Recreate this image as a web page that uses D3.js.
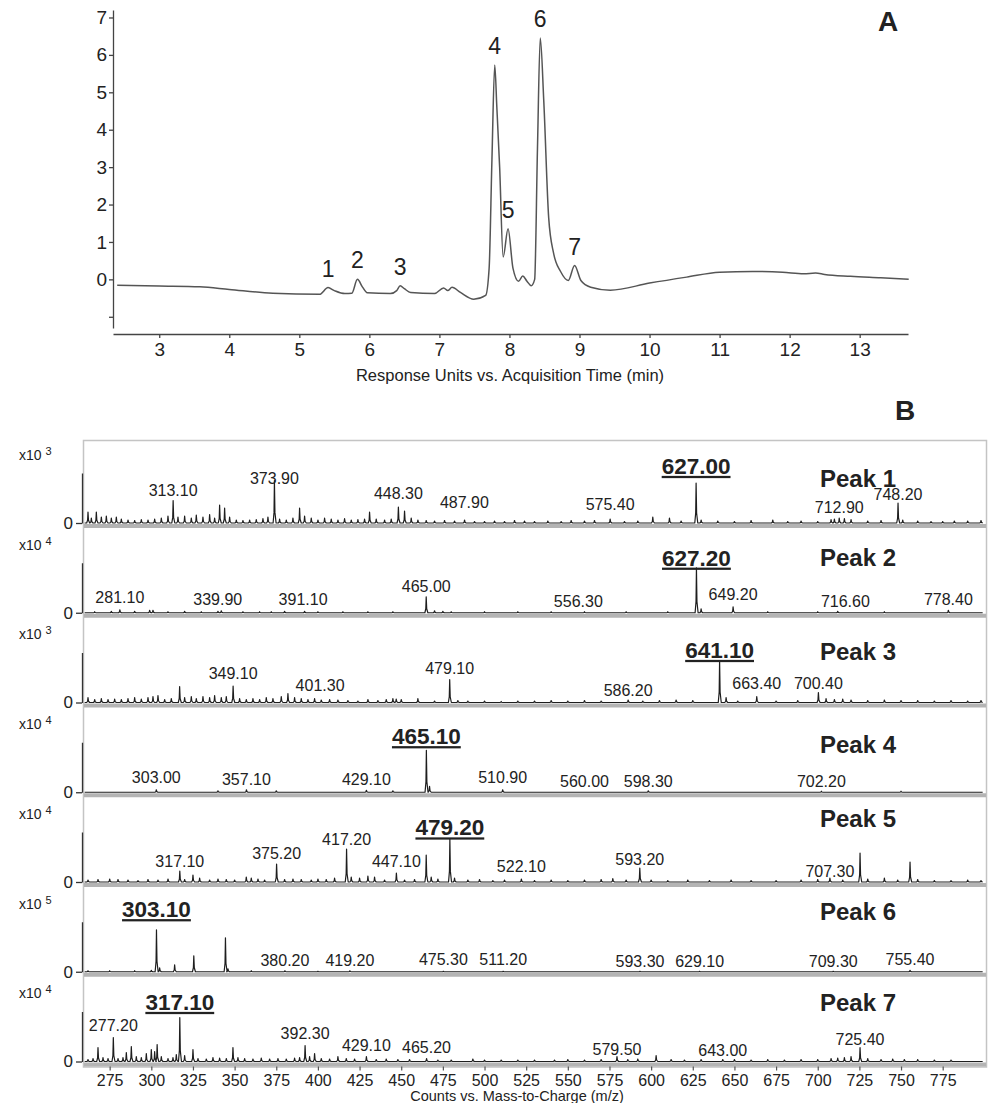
<!DOCTYPE html>
<html lang="en">
<head>
  <meta charset="UTF-8">
  <title>Chromatogram and mass spectra</title>
  <script src="https://d3js.org/d3.v7.min.js"></script>
  <style>
    body { margin: 0; background: #fff; }
    text { font-family: "Liberation Sans", Arial, sans-serif; fill: #222; }
  </style>
</head>
<body>
  <div class="canvas"></div>
  <script>
    // ---- panel A: chromatogram [time (min), response] ----
    const CHROMATOGRAM = [
      [2.40, -0.16], [3.00, -0.18], [3.58, -0.20], [4.00, -0.27], [4.62, -0.37], [5.29, -0.40],
      [5.41, -0.22], [5.50, -0.30], [5.65, -0.38], [5.75, -0.37], [5.83, 0.00], [5.90, -0.20],
      [5.97, -0.36], [6.30, -0.38], [6.39, -0.30], [6.44, -0.17], [6.50, -0.25], [6.59, -0.35],
      [6.93, -0.38], [7.06, -0.23], [7.12, -0.30], [7.18, -0.21], [7.30, -0.35], [7.49, -0.53],
      [7.66, -0.43], [7.71, 0.30], [7.75, 3.20], [7.79, 5.73], [7.82, 4.60], [7.86, 3.00],
      [7.91, 0.60], [7.98, 1.35], [8.05, 0.30], [8.13, -0.05], [8.19, 0.09], [8.25, -0.05],
      [8.31, -0.17], [8.36, 0.00], [8.40, 3.50], [8.44, 6.45], [8.49, 4.77], [8.56, 1.65],
      [8.63, 0.70], [8.73, 0.21], [8.84, -0.03], [8.93, 0.37], [9.02, -0.03], [9.16, -0.21],
      [9.44, -0.29], [10.00, -0.10], [10.53, 0.06], [11.00, 0.19], [11.47, 0.21], [11.90, 0.19],
      [12.20, 0.15], [12.37, 0.17], [12.50, 0.13], [12.87, 0.08], [13.30, 0.04], [13.70, 0.00]
    ];
    const PEAK_IDS = [1, 2, 3, 4, 5, 6, 7];
    const PEAK_TIMES = [5.41, 5.83, 6.44, 7.79, 7.98, 8.44, 8.93];
    const TIME_TICKS = [3, 4, 5, 6, 7, 8, 9, 10, 11, 12, 13];
    const RESPONSE_TICKS = [-1, 0, 1, 2, 3, 4, 5, 6, 7];

    // ---- panel B: spectra [m/z, relative height] ----
    const SPEC_1 = [
      [262,0.22],[264,0.1],[267,0.22],[270,0.12],[273,0.14],[276,0.1],[279,0.12],[282,0.08],[286,0.06],
      [290,0.05],[294,0.07],[298,0.06],[302,0.08],[306,0.1],[310,0.14],[313.1,0.45],[316,0.12],[320,0.14],
      [324,0.1],[327,0.16],[331,0.12],[335,0.17],[338,0.1],[341,0.36],[344,0.3],[347,0.12],[351,0.06],
      [355,0.05],[359,0.06],[363,0.07],[367,0.09],[370,0.12],[373.9,0.85],[377,0.08],[381,0.06],[385,0.1],
      [389,0.3],[392,0.14],[396,0.1],[400,0.06],[404,0.1],[408,0.08],[412,0.06],[416,0.09],[420,0.06],
      [424,0.07],[428,0.08],[431,0.22],[435,0.08],[440,0.06],[444,0.08],[448.3,0.32],[452,0.24],[456,0.1],
      [460,0.06],[465,0.05],[470,0.04],[476,0.05],[482,0.04],[488,0.06],[494,0.03],[500,0.03],[506,0.04],
      [512,0.03],[518,0.05],[524,0.04],[530,0.03],[538,0.04],[546,0.03],[552,0.05],[560,0.04],[566,0.05],
      [575.4,0.08],[584,0.03],[592,0.04],[601,0.12],[611,0.1],[618,0.04],[627,0.8],[630,0.06],[640,0.04],
      [650,0.03],[660,0.05],[673,0.06],[682,0.03],[690,0.04],[700,0.03],[708,0.07],[710,0.08],[712.9,0.1],
      [716,0.09],[720,0.07],[730,0.04],[738,0.05],[748.2,0.4],[751,0.06],[760,0.04],[768,0.03],[775,0.03],
      [782,0.04],[790,0.04],[798,0.05]
    ];
    const SPEC_2 = [
      [266,0.02],[276,0.03],[281.1,0.06],[290,0.03],[299,0.05],[301,0.05],[310,0.02],[320,0.03],[330,0.02],
      [340,0.03],[342,0.04],[355,0.02],[365,0.02],[372,0.02],[380,0.03],[392,0.03],[400,0.02],[415,0.02],
      [430,0.02],[445,0.02],[465,0.32],[470,0.04],[475,0.03],[480,0.02],[500,0.02],[520,0.02],[540,0.02],
      [560,0.02],[585,0.02],[610,0.02],[627.2,0.9],[630,0.08],[649.2,0.12],[670,0.02],[700,0.02],[712,0.03],
      [740,0.02],[778.4,0.05]
    ];
    const SPEC_3 = [
      [262,0.1],[266,0.06],[270,0.08],[274,0.06],[278,0.07],[282,0.06],[286,0.08],[290,0.1],[294,0.07],
      [298,0.1],[301,0.12],[304,0.14],[308,0.06],[312,0.08],[317,0.32],[320,0.1],[324,0.12],[327,0.08],
      [331,0.12],[335,0.1],[338,0.14],[342,0.1],[345,0.12],[349.1,0.33],[353,0.08],[357,0.06],[361,0.08],
      [365,0.06],[369,0.1],[373,0.08],[378,0.12],[382,0.18],[386,0.1],[390,0.08],[394,0.06],[398,0.08],
      [402,0.05],[407,0.06],[412,0.05],[418,0.04],[424,0.03],[430,0.06],[436,0.04],[441,0.06],[445,0.08],
      [447,0.07],[450,0.06],[460,0.08],[470,0.03],[479.1,0.46],[484,0.04],[490,0.03],[500,0.03],[510,0.02],
      [520,0.03],[530,0.03],[540,0.04],[550,0.03],[560,0.04],[570,0.03],[586.2,0.05],[595,0.03],[605,0.04],
      [615,0.05],[625,0.04],[641.1,0.84],[645,0.1],[652,0.03],[663.4,0.12],[675,0.03],[688,0.04],[700.4,0.2],
      [705,0.08],[710,0.06],[715,0.07],[720,0.05],[730,0.04],[740,0.05],[750,0.04],[760,0.04],[770,0.03],
      [780,0.04],[790,0.03],[798,0.04]
    ];
    const SPEC_4 = [
      [303,0.05],[340,0.03],[357.1,0.05],[375,0.03],[429.1,0.04],[445,0.03],[465.1,0.84],[467,0.12],
      [510.9,0.05],[598.3,0.03],[702.2,0.02],[750,0.02]
    ];
    const SPEC_5 = [
      [262,0.04],[268,0.05],[275,0.06],[280,0.05],[286,0.04],[292,0.03],[298,0.05],[304,0.04],[310,0.06],
      [317.1,0.22],[320,0.05],[325,0.14],[329,0.08],[335,0.04],[340,0.06],[345,0.05],[350,0.04],[357,0.1],
      [360,0.08],[364,0.06],[368,0.04],[375.2,0.36],[380,0.05],[385,0.06],[390,0.05],[396,0.04],[400,0.06],
      [405,0.05],[410,0.08],[417.2,0.66],[420,0.1],[425,0.08],[430,0.12],[434,0.1],[440,0.04],[447.1,0.18],
      [452,0.04],[458,0.05],[465,0.54],[468,0.1],[472,0.06],[479.2,0.87],[482,0.08],[490,0.04],[497,0.05],
      [505,0.03],[512,0.04],[522.1,0.06],[530,0.03],[540,0.04],[550,0.03],[560,0.04],[570,0.05],[577,0.07],
      [585,0.04],[593.2,0.28],[600,0.04],[610,0.03],[622,0.04],[635,0.03],[648,0.04],[660,0.03],[675,0.03],
      [690,0.04],[700,0.05],[707.3,0.08],[715,0.04],[725.4,0.58],[730,0.06],[740,0.08],[748,0.04],
      [755.4,0.4],[760,0.05],[770,0.03],[780,0.03],[790,0.04],[798,0.03]
    ];
    const SPEC_6 = [
      [262,0.02],[275,0.02],[290,0.02],[300,0.03],[303.1,0.84],[305,0.08],[314,0.14],[325.5,0.32],
      [344.5,0.68],[346,0.06],[360,0.02],[380.2,0.02],[400,0.01],[419.2,0.02],[475.3,0.01],[511.2,0.01],
      [593.3,0.01],[629.1,0.01],[709.3,0.01],[755.4,0.03]
    ];
    const SPEC_7 = [
      [262,0.04],[265,0.06],[268,0.28],[271,0.08],[274,0.06],[277.2,0.48],[280,0.06],[283,0.08],[285,0.18],
      [288,0.3],[291,0.1],[294,0.08],[297,0.16],[300,0.24],[302,0.2],[303.5,0.34],[306,0.1],[310,0.06],
      [313,0.08],[315,0.14],[317.1,0.88],[320,0.12],[325,0.24],[328,0.06],[333,0.05],[337,0.08],[341,0.07],
      [345,0.06],[349,0.28],[352,0.08],[356,0.06],[361,0.05],[366,0.07],[371,0.05],[376,0.06],[381,0.05],
      [386,0.07],[389,0.08],[392.3,0.32],[395,0.1],[398,0.16],[402,0.06],[407,0.05],[412,0.1],[417,0.06],
      [422,0.05],[429.1,0.1],[435,0.04],[441,0.05],[448,0.04],[455,0.04],[465.2,0.06],[472,0.03],[480,0.03],
      [493,0.05],[500,0.03],[510,0.03],[520,0.03],[530,0.03],[542,0.03],[550,0.04],[560,0.03],[570,0.04],
      [579.5,0.1],[586,0.04],[592,0.05],[603,0.12],[612,0.04],[620,0.03],[630,0.04],[643,0.04],[650,0.04],
      [660,0.03],[670,0.04],[680,0.03],[690,0.04],[700,0.04],[708,0.06],[712,0.07],[716,0.08],[720,0.1],
      [725.4,0.28],[730,0.06],[738,0.04],[745,0.05],[752,0.04],[760,0.04],[770,0.03],[780,0.03]
    ];

    // annotated m/z values per panel (first one listed is the underlined base ion)
    const LABELS_1 = [627.00, 313.10, 373.90, 448.30, 487.90, 575.40, 712.90, 748.20];
    const LABELS_2 = [627.20, 281.10, 339.90, 391.10, 465.00, 556.30, 649.20, 716.60, 778.40];
    const LABELS_3 = [641.10, 349.10, 401.30, 479.10, 586.20, 663.40, 700.40];
    const LABELS_4 = [465.10, 303.00, 357.10, 429.10, 510.90, 560.00, 598.30, 702.20];
    const LABELS_5 = [479.20, 317.10, 375.20, 417.20, 447.10, 522.10, 593.20, 707.30];
    const LABELS_6 = [303.10, 380.20, 419.20, 475.30, 511.20, 593.30, 629.10, 709.30, 755.40];
    const LABELS_7 = [317.10, 277.20, 392.30, 429.10, 465.20, 579.50, 643.00, 725.40];
    const PANEL_NAMES = ['Peak 1', 'Peak 2', 'Peak 3', 'Peak 4', 'Peak 5', 'Peak 6', 'Peak 7'];
    const PANEL_EXP = [3, 4, 3, 4, 4, 5, 4];
    const MZ_TICKS = d3.range(275, 776, 25);

    // label heights (in panel units) – layout only
    const LEVELS_1 = [1.14, 0.66, 0.9, 0.6, 0.42, 0.38, 0.32, 0.58];
    const LEVELS_2 = [1.1, 0.3, 0.26, 0.26, 0.52, 0.22, 0.36, 0.22, 0.26];
    const LEVELS_3 = [1.05, 0.59, 0.35, 0.69, 0.25, 0.39, 0.39];
    const LEVELS_4 = [1.12, 0.3, 0.26, 0.26, 0.3, 0.22, 0.22, 0.22];
    const LEVELS_5 = [1.09, 0.41, 0.57, 0.85, 0.41, 0.31, 0.45, 0.21];
    const LEVELS_6 = [1.25, 0.23, 0.23, 0.25, 0.25, 0.21, 0.21, 0.21, 0.25];
    const LEVELS_7 = [1.19, 0.73, 0.57, 0.33, 0.29, 0.25, 0.23, 0.45];
    const TITLE_LEVELS = [0.88, 1.1, 1.01, 0.96, 1.26, 1.21, 1.17];

    const width = 999;
    const height = 1103;
    const FONT = '"Liberation Sans", Arial, sans-serif';

    const svg = d3.select('.canvas')
                  .append('svg')
                  .attr('width', width)
                  .attr('height', height);

    // ================= A =================
    const xT = d3.scaleLinear().domain([2.34, 13.69]).range([113, 908]);
    const yR = d3.scaleLinear().domain([-1.3, 7.2]).range([328, 10]);

    const gA = svg.append('g');

    const yAxisA = gA.append('g')
                     .attr('transform', 'translate(113,0)')
                     .call(d3.axisLeft(yR).tickValues(RESPONSE_TICKS)
                             .tickFormat(d => d < 0 ? '' : d)
                             .tickSize(4).tickSizeOuter(0).tickPadding(2));
    const xAxisA = gA.append('g')
                     .attr('transform', 'translate(0,334)')
                     .call(d3.axisBottom(xT).tickValues(TIME_TICKS)
                             .tickSize(4).tickSizeOuter(0).tickPadding(5));
    [yAxisA, xAxisA].forEach(g => {
      g.selectAll('path, line').attr('stroke', '#444').attr('stroke-width', 1.3);
      g.selectAll('text').style('font-size', '19px').style('font-family', FONT).attr('fill', '#222');
    });

    const chromLine = d3.line()
                        .x(d => xT(d[0]))
                        .y(d => yR(d[1]))
                        .curve(d3.curveMonotoneX);

    gA.append('path')
      .datum(CHROMATOGRAM)
      .attr('fill', 'none')
      .attr('stroke', '#555')
      .attr('stroke-width', 1.5)
      .attr('d', chromLine);

    // peak numbers, set just above each apex
    const apexOf = t => CHROMATOGRAM.find(d => d[0] === t)[1];
    gA.selectAll('.pk')
      .data(PEAK_IDS)
      .enter()
      .append('text')
      .attr('x', (d, i) => xT(PEAK_TIMES[i]))
      .attr('y', (d, i) => yR(apexOf(PEAK_TIMES[i])) - 19)
      .attr('dy', '0.35em')
      .attr('text-anchor', 'middle')
      .style('font-size', '23px')
      .text(d => d);

    gA.append('text')
      .attr('x', 510).attr('y', 375)
      .attr('dy', '0.35em')
      .attr('text-anchor', 'middle')
      .style('font-size', '16.5px')
      .text('Response Units vs. Acquisition Time (min)');

    gA.append('text')
      .attr('x', 888).attr('y', 21)
      .attr('dy', '0.35em')
      .attr('text-anchor', 'middle')
      .style('font-size', '28px').style('font-weight', 'bold')
      .text('A');

    // ================= B =================
    const specs = [SPEC_1, SPEC_2, SPEC_3, SPEC_4, SPEC_5, SPEC_6, SPEC_7];
    const labels = [LABELS_1, LABELS_2, LABELS_3, LABELS_4, LABELS_5, LABELS_6, LABELS_7];
    const levels = [LEVELS_1, LEVELS_2, LEVELS_3, LEVELS_4, LEVELS_5, LEVELS_6, LEVELS_7];

    const xMz = d3.scaleLinear().domain([259, 801]).range([83, 986]);
    const frameTop = 440;
    const firstBase = 523;
    const step = 89.75;
    const axisH = 50;
    const lastBase = firstBase + step * 6;

    const gB = svg.append('g');

    gB.append('text')
      .attr('x', 905).attr('y', 410)
      .attr('dy', '0.35em')
      .attr('text-anchor', 'middle')
      .style('font-size', '28px').style('font-weight', 'bold')
      .text('B');

    gB.append('rect')
      .attr('x', 83.5).attr('y', frameTop + 0.5)
      .attr('width', 903).attr('height', lastBase + 5 - frameTop)
      .attr('fill', 'none')
      .attr('stroke', '#c4c4c4')
      .attr('stroke-width', 1.5);

    // spike shape for each peak
    const stickPoints = peaks => {
      const pts = [[260, 0]];
      peaks.slice().sort((a, b) => a[0] - b[0]).forEach(([m, h]) => {
        pts.push([m - 0.8, 0], [m - 0.25, h * 0.25], [m, h], [m + 0.3, h * 0.25], [m + 1.0, 0]);
      });
      pts.push([799, 0]);
      return pts;
    };

    specs.forEach((spec, i) => {
      const base = firstBase + step * i;
      const y = d3.scaleLinear().domain([0, 1]).range([base, base - axisH]);
      const g = gB.append('g');

      // separator band under the baseline
      g.append('rect')
        .attr('x', 84).attr('y', base + 1)
        .attr('width', 902).attr('height', 4)
        .attr('fill', '#b4b4b4');

      const spLine = d3.line().x(d => xMz(d[0])).y(d => y(d[1]));
      g.append('path')
        .datum(stickPoints(spec))
        .attr('fill', 'none')
        .attr('stroke', '#1e1e1e')
        .attr('stroke-width', 1.2)
        .attr('stroke-linejoin', 'round')
        .attr('d', spLine);

      const ax = g.append('g')
                  .attr('transform', 'translate(82,0)')
                  .call(d3.axisLeft(y).tickValues([0]).tickFormat(d => d)
                          .tickSize(6).tickSizeOuter(0).tickPadding(3));
      ax.selectAll('path, line').attr('stroke', '#333').attr('stroke-width', 1.3);
      ax.selectAll('text').style('font-size', '17px').style('font-family', FONT).attr('fill', '#222');

      // x10^n scale factor
      const sf = g.append('text')
                  .attr('x', 19).attr('y', base - 68)
                  .attr('dy', '0.35em')
                  .style('font-size', '14px');
      sf.append('tspan').text('x10');
      sf.append('tspan').attr('dx', 4).attr('dy', -5).style('font-size', '11px').text(PANEL_EXP[i]);

      // panel title
      g.append('text')
        .attr('x', 820).attr('y', y(TITLE_LEVELS[i]))
        .attr('dy', '0.35em')
        .style('font-size', '24px').style('font-weight', 'bold')
        .text(PANEL_NAMES[i]);

      // ion labels
      g.selectAll('.ion')
        .data(labels[i])
        .enter()
        .append('text')
        .attr('x', d => xMz(d))
        .attr('y', (d, j) => y(levels[i][j]))
        .attr('dy', '0.35em')
        .attr('text-anchor', 'middle')
        .style('font-size', (d, j) => j === 0 ? '22.5px' : '16px')
        .style('font-weight', (d, j) => j === 0 ? 'bold' : 'normal')
        .style('text-decoration', (d, j) => j === 0 ? 'underline' : 'none')
        .attr('fill', (d, j) => j === 0 ? '#111' : '#333')
        .text(d => d.toFixed(2));
    });

    const xAxisB = gB.append('g')
                     .attr('transform', `translate(0,${lastBase + 5})`)
                     .call(d3.axisBottom(xMz).tickValues(MZ_TICKS)
                             .tickSize(4).tickSizeOuter(0).tickPadding(4));
    xAxisB.select('.domain').remove();
    xAxisB.selectAll('line').attr('stroke', '#555').attr('stroke-width', 1.2);
    xAxisB.selectAll('text').style('font-size', '16px').style('font-family', FONT).attr('fill', '#333');

    gB.append('text')
      .attr('x', 517).attr('y', 1096)
      .attr('dy', '0.35em')
      .attr('text-anchor', 'middle')
      .style('font-size', '14.5px')
      .attr('fill', '#333')
      .text('Counts vs. Mass-to-Charge (m/z)');
  </script>
</body>
</html>
